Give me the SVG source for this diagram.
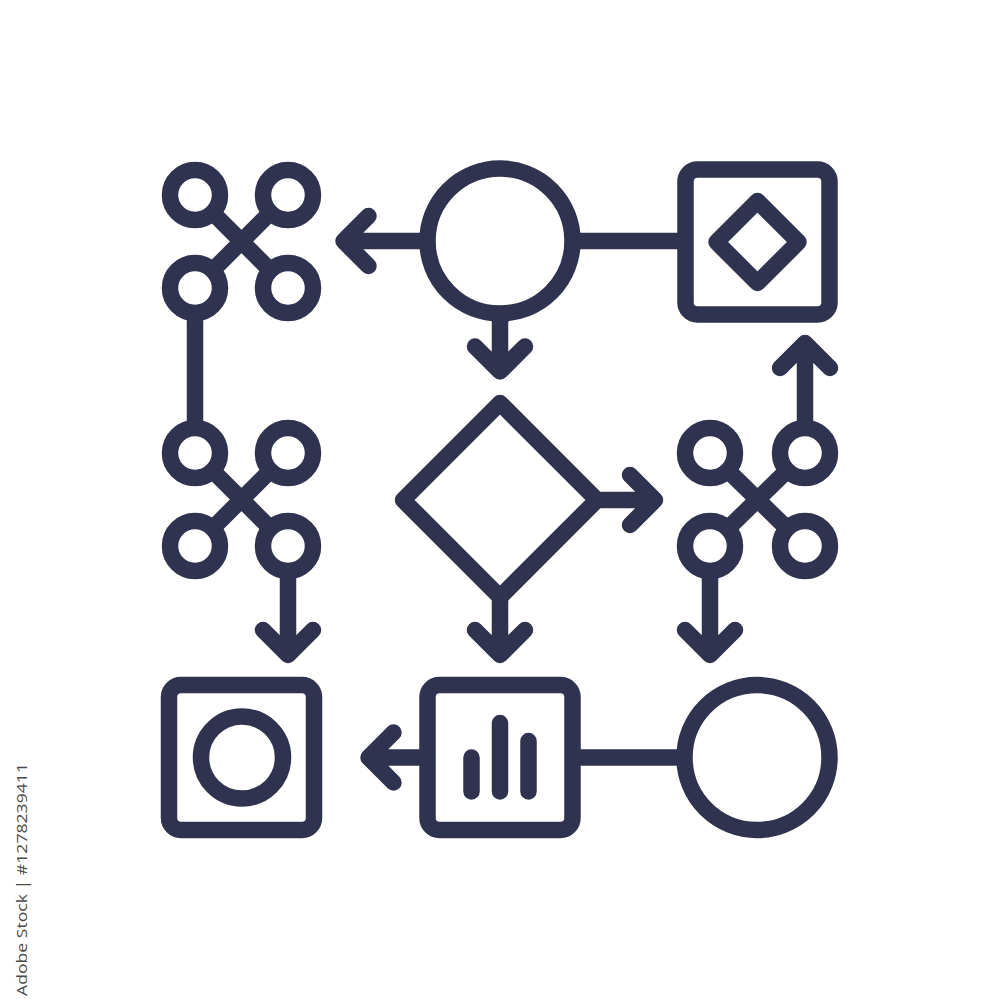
<svg xmlns="http://www.w3.org/2000/svg" width="1000" height="1000" viewBox="0 0 1000 1000">
<style>
.s{fill:none;stroke:#30334f;stroke-width:16.5;stroke-linecap:round;stroke-linejoin:round}
.n{fill:#fff;stroke:#30334f;stroke-width:16.5;stroke-linejoin:round}
.wm{font-family:"Open Sans","Liberation Sans",sans-serif;font-size:15px;fill:#4a4a4a}
</style>
<rect width="1000" height="1000" fill="#fff"/>
<g id="connectors" class="s">
  <!-- top circle to left cluster -->
  <path d="M427.5 241H343.5M368.5 216L343.5 241L368.5 266"/>
  <!-- top circle to top-right box -->
  <path d="M572.5 241H685.5"/>
  <!-- top circle down to diamond -->
  <path d="M500 313.5V371.5M475 346.5L500 371.5L525 346.5"/>
  <!-- left clusters link -->
  <path d="M195 313V428"/>
  <!-- diamond right -->
  <path d="M597 500H655M630 475L655 500L630 525"/>
  <!-- diamond down -->
  <path d="M500 597V655M475 630L500 655L525 630"/>
  <!-- left-middle cluster down -->
  <path d="M288 571V655M263 630L288 655L313 630"/>
  <!-- right cluster down -->
  <path d="M710 571V655M685 630L710 655L735 630"/>
  <!-- right cluster up -->
  <path d="M805 428V343M780 368L805 343L830 368"/>
  <!-- bottom circle to chart box -->
  <path d="M684.5 757.5H572.5"/>
  <!-- chart box to left box -->
  <path d="M427.5 757.5H368.5M393.5 732.5L368.5 757.5L393.5 782.5"/>
</g>
<g id="cluster-top-left">
  <path class="s" d="M195 195L288 288M288 195L195 288"/>
  <circle class="n" cx="195" cy="195" r="25"/>
  <circle class="n" cx="288" cy="195" r="25"/>
  <circle class="n" cx="195" cy="288" r="25"/>
  <circle class="n" cx="288" cy="288" r="25"/>
</g>
<g id="cluster-mid-left">
  <path class="s" d="M195 453L288 546M288 453L195 546"/>
  <circle class="n" cx="195" cy="453" r="25"/>
  <circle class="n" cx="288" cy="453" r="25"/>
  <circle class="n" cx="195" cy="546" r="25"/>
  <circle class="n" cx="288" cy="546" r="25"/>
</g>
<g id="cluster-mid-right">
  <path class="s" d="M710 453L805 546M805 453L710 546"/>
  <circle class="n" cx="710" cy="453" r="25"/>
  <circle class="n" cx="805" cy="453" r="25"/>
  <circle class="n" cx="710" cy="546" r="25"/>
  <circle class="n" cx="805" cy="546" r="25"/>
</g>
<g id="circle-top">
  <circle class="n" cx="500" cy="241" r="72.5"/>
</g>
<g id="box-top-right">
  <rect class="n" x="685.5" y="169.5" width="144" height="145" rx="12"/>
  <path class="s" d="M757.5 201L798.5 242L757.5 283L716.5 242Z"/>
</g>
<g id="diamond-center">
  <path class="n" d="M500 403L597 500L500 597L403 500Z"/>
</g>
<g id="box-bottom-left">
  <rect class="n" x="169" y="685" width="145" height="145" rx="12"/>
  <circle class="s" cx="242" cy="757.5" r="41"/>
</g>
<g id="box-chart">
  <rect class="n" x="427.5" y="685" width="145" height="145" rx="12"/>
  <path class="s" d="M471.5 757.5V791.5M500 723V791.5M528.5 741V791.5"/>
</g>
<g id="circle-bottom-right">
  <circle class="n" cx="757" cy="757.5" r="72.5"/>
</g>
<text class="wm" x="27" y="996" transform="rotate(-90 27 996)" textLength="233" lengthAdjust="spacingAndGlyphs">Adobe Stock | #1278239411</text>
</svg>
